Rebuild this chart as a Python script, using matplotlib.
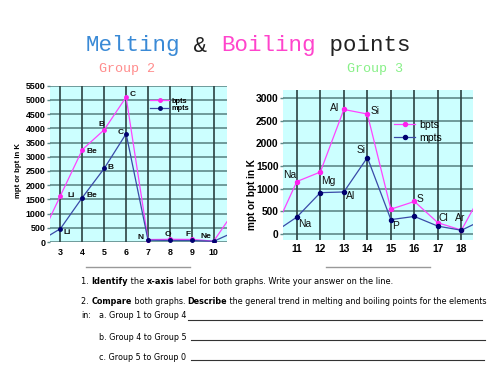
import matplotlib
matplotlib.use("Agg")
import matplotlib.pyplot as plt
from matplotlib.lines import Line2D

W, H = 500, 386

# ---------------- data ----------------
left_x = [2, 3, 4, 5, 6, 7, 8, 9, 10, 11]
left_elements = ['He', 'Li', 'Be', 'B', 'C', 'N', 'O', 'F', 'Ne', 'Na']
left_bpts = [4, 1630, 3250, 3950, 5100, 85, 95, 90, 30, 1156]
left_mpts = [1, 470, 1565, 2590, 3810, 63, 55, 53, 25, 371]
left_xticks = [3, 4, 5, 6, 7, 8, 9, 10]
left_yticks = list(range(0, 5501, 500))

right_x = [10, 11, 12, 13, 14, 15, 16, 17, 18, 19]
right_elements = ['Ne', 'Na', 'Mg', 'Al', 'Si', 'P', 'S', 'Cl', 'Ar', 'K']
right_bpts = [27, 1160, 1370, 2750, 2650, 550, 720, 250, 88, 1032]
right_mpts = [25, 375, 915, 930, 1690, 320, 390, 175, 85, 337]
right_xticks = [11, 12, 13, 14, 15, 16, 17, 18]
right_yticks = list(range(0, 3001, 500))

# labels: (series, element, dx, dy)
left_labels = [('b', 'Li', 0.50, 0), ('b', 'Be', 0.43, -60), ('b', 'B', -0.14, 200),
               ('b', 'C', 0.29, 80), ('m', 'Li', 0.29, -120), ('m', 'Be', 0.43, 70),
               ('m', 'B', 0.30, 45), ('m', 'C', -0.26, 35), ('m', 'N', -0.32, 95),
               ('b', 'O', -0.1, 165), ('b', 'F', -0.16, 165), ('b', 'Ne', -0.36, 170)]
right_labels = [('b', 'Na', -0.31, 150), ('m', 'Na', 0.35, -155), ('b', 'Mg', 0.35, -207),
                ('b', 'Al', -0.38, 43), ('b', 'Si', 0.33, 70), ('m', 'Si', -0.28, 168),
                ('m', 'Al', 0.30, -88), ('m', 'P', 0.19, -137), ('b', 'S', 0.23, 48),
                ('b', 'Cl', 0.25, 116), ('b', 'Ar', -0.04, 278)]

PINK = '#ff44ff'
PINK_M = '#ff22ee'
NAVY_L = '#3a4aa8'
NAVY_M = '#000070'
BG = '#ccffff'
HGRID = '#5f8a8a'
VGRID = '#2c4242'

fig = plt.figure(figsize=(5, 3.86), dpi=100)


def fx(x):
    return x / W


def fy(y):
    return 1 - y / H


def make_axes(l, t, r, b):
    return fig.add_axes([fx(l), fy(b), (r - l) / W, (b - t) / H])


def style_axes(ax, xticks, yticks, xlim, ylim, fs_tick):
    ax.set_facecolor(BG)
    ax.set_xlim(*xlim)
    ax.set_ylim(*ylim)
    for s in ax.spines.values():
        s.set_visible(False)
    for yv in yticks:
        ax.axhline(yv, color=HGRID, lw=1.2, zorder=1)
    for xv in xticks:
        ax.axvline(xv, color=VGRID, lw=1.2, zorder=1)
    ax.set_xticks(xticks)
    ax.set_yticks(yticks)
    ax.set_xticklabels([str(v) for v in xticks], fontweight='bold', fontsize=fs_tick,
                       family='Liberation Sans')
    ax.set_yticklabels([str(v) for v in yticks], fontweight='bold', fontsize=fs_tick,
                       family='Liberation Sans')
    ax.tick_params(axis='x', length=0, pad=4)
    ax.tick_params(axis='y', length=2.2, width=1.0, color=HGRID, pad=0.8)


def plot_series(ax, xs, bp, mp, ms):
    lb, = ax.plot(xs, bp, color=PINK, lw=0.9, marker='o', ms=ms, mfc=PINK_M, mec=PINK_M,
                  zorder=3, label='bpts', clip_on=True)
    lm, = ax.plot(xs, mp, color=NAVY_L, lw=0.9, marker='o', ms=ms, mfc=NAVY_M, mec=NAVY_M,
                  zorder=3, label='mpts', clip_on=True)
    return lb, lm


def add_labels(ax, xs, els, bp, mp, labels, fs, weight):
    for ser, el, dx, dy in labels:
        i = els.index(el)
        yv = bp[i] if ser == 'b' else mp[i]
        ax.text(xs[i] + dx, yv + dy, el, fontsize=fs, fontweight=weight,
                family='Liberation Sans', ha='center', va='center', zorder=4, color='#111111')


# ---------------- left chart ----------------
axL = make_axes(49.5, 85.7, 227.5, 242)
style_axes(axL, left_xticks, left_yticks, (2.5, 10.63), (0, 5500), 6.4)
plot_series(axL, left_x, left_bpts, left_mpts, 2.5)
add_labels(axL, left_x, left_elements, left_bpts, left_mpts, left_labels, 6, 'bold')
legL = axL.legend(loc='upper left', bbox_to_anchor=(fx(150), fy(97.5)),
                  bbox_transform=fig.transFigure, frameon=False,
                  prop={'family': 'Liberation Sans', 'weight': 'bold', 'size': 5.3},
                  handlelength=2.6, handletextpad=0.3, labelspacing=0.05, borderpad=0,
                  borderaxespad=0)
fig.text(fx(19), fy(170), 'mpt or bpt in K', rotation=90, ha='center', va='center',
         fontsize=5.6, fontweight='bold', family='Liberation Sans')

# ---------------- right chart ----------------
axR = make_axes(282.7, 90, 472.5, 240)
style_axes(axR, right_xticks, right_yticks, (10.4, 18.47), (-130, 3180), 7.4)
axR.tick_params(axis='x', pad=3)
plot_series(axR, right_x, right_bpts, right_mpts, 2.9)
add_labels(axR, right_x, right_elements, right_bpts, right_mpts, right_labels, 7.4, 'normal')
legR = axR.legend(loc='upper left', bbox_to_anchor=(fx(394), fy(120)),
                  bbox_transform=fig.transFigure, frameon=False,
                  prop={'family': 'Liberation Sans', 'size': 7.6},
                  handlelength=2.0, handletextpad=0.4, labelspacing=0.25, borderpad=0,
                  borderaxespad=0)
fig.text(fx(252), fy(195), 'mpt or bpt in K', rotation=90, ha='center', va='center',
         fontsize=7.2, fontweight='bold', family='Liberation Sans')

# ---------------- texts ----------------
renderer = fig.canvas.get_renderer()


def seq_text(x_px, y_px, segments, size, family, va='center'):
    x = x_px
    for s, weight, color in segments:
        t = fig.text(fx(x), fy(y_px), s, fontsize=size, fontweight=weight, color=color,
                     family=family, va=va, ha='left')
        bb = t.get_window_extent(renderer)
        x += bb.width
    return x


seq_text(86, 46, [('Melting', 'normal', '#3a8ad6'), (' & ', 'normal', '#222222'),
                  ('Boiling', 'normal', '#ff44cc'), (' points', 'normal', '#222222')],
         16.2, 'Liberation Mono')
fig.text(fx(127), fy(69), 'Group 2', fontsize=9.6, family='Liberation Mono',
         color='#ff8c8c', ha='center', va='center')
fig.text(fx(375), fy(69), 'Group 3', fontsize=9.6, family='Liberation Mono',
         color='#88f088', ha='center', va='center')


def hline(x0, x1, y, color='#333333', lw=0.8):
    fig.add_artist(Line2D([fx(x0), fx(x1)], [fy(y), fy(y)], color=color, lw=lw,
                          transform=fig.transFigure))


hline(86, 190, 267, color='#999999', lw=1.0)
hline(326, 430, 267, color='#999999', lw=1.0)

BF = 'DejaVu Sans'
BS = 5.8
seq_text(81, 282, [('1. ', 'normal', 'k'), ('Identify', 'bold', 'k'),
                   (' the ', 'normal', 'k'), ('x-axis', 'bold', 'k'),
                   (' label for both graphs. Write your answer on the line.', 'normal', 'k')],
         5.95, BF)
seq_text(81, 302, [('2. ', 'normal', 'k'), ('Compare', 'bold', 'k'),
                   (' both graphs. ', 'normal', 'k'), ('Describe', 'bold', 'k'),
                   (' the general trend in melting and boiling points for the elements',
                    'normal', 'k')], BS, BF)
fig.text(fx(81), fy(316), 'in:', fontsize=BS, family=BF, va='center')
seq_text(99, 316, [('a. Group 1 to Group 4', 'normal', 'k')], BS, BF)
hline(188, 482, 320)
seq_text(99, 337, [('b. Group 4 to Group 5', 'normal', 'k')], BS, BF)
hline(191, 485, 340)
seq_text(99, 357, [('c. Group 5 to Group 0', 'normal', 'k')], BS, BF)
hline(191, 484, 360)

fig.savefig('out.png', dpi=100)
